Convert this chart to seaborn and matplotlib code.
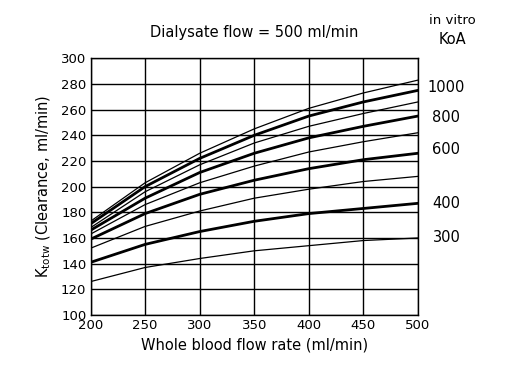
import numpy as np
import pandas as pd
import matplotlib
matplotlib.use('Agg')
import matplotlib.pyplot as plt
import seaborn as sns

# blood flow (ml/min)
blood_flow = [200, 250, 300, 350, 400, 450, 500]

# thick curves (labelled KoA)
koa_1000 = [171, 200, 222, 240, 255, 266, 275]
koa_800 = [166, 191, 211, 226, 238, 247, 255]
koa_600 = [159, 179, 194, 205, 214, 221, 226]
koa_400 = [141, 155, 165, 173, 179, 183, 187]

# thin curves
thin_1 = [173, 203, 226, 245, 261, 273, 283]
thin_2 = [168, 196, 217, 234, 247, 257, 266]
thin_3 = [163, 186, 203, 216, 227, 235, 242]
thin_4 = [152, 169, 181, 191, 198, 204, 208]
thin_300 = [126, 137, 144, 150, 154, 158, 160]

right_labels = ['1000', '800', '600', '400', '300']
right_label_y = [277, 254, 229, 187, 160]

sns.set_style('white')
plt.rcParams['font.family'] = ['DejaVu Sans']
plt.rcParams['text.color'] = 'black'
plt.rcParams['axes.labelcolor'] = 'black'

rows = []
for name, vals, w in [('koa_1000', koa_1000, 'thick'), ('koa_800', koa_800, 'thick'),
                      ('koa_600', koa_600, 'thick'), ('koa_400', koa_400, 'thick'),
                      ('thin_1', thin_1, 'thin'), ('thin_2', thin_2, 'thin'),
                      ('thin_3', thin_3, 'thin'), ('thin_4', thin_4, 'thin'),
                      ('thin_300', thin_300, 'thin')]:
    for x, y in zip(blood_flow, vals):
        rows.append({'curve': name, 'flow': x, 'K': y, 'w': w})
df = pd.DataFrame(rows)

fig = plt.figure(figsize=(5.12, 3.77), dpi=100)
ax = fig.add_axes([0.1768, 0.1645, 0.6396, 0.6809])

for name, g in df.groupby('curve', sort=False):
    lw = 2.0 if g['w'].iloc[0] == 'thick' else 0.9
    sns.lineplot(data=g, x='flow', y='K', color='black', linewidth=lw, ax=ax,
                 legend=False, zorder=3)

ax.set_xlim(200, 500)
ax.set_ylim(100, 300)
ax.set_xticks(np.arange(200, 501, 50))
ax.set_yticks(np.arange(100, 301, 20))
ax.grid(True, color='black', linewidth=1.0)
ax.tick_params(length=0, labelsize=9.5, pad=3, colors='black')
for s in ax.spines.values():
    s.set_color('black')
    s.set_linewidth(1.0)

ax.set_xlabel('Whole blood flow rate (ml/min)', fontsize=10.5, labelpad=4)
ax.set_ylabel(r'K$_{\mathrm{totw}}$ (Clearance, ml/min)', fontsize=10.5, labelpad=6)
ax.set_title('Dialysate flow = 500 ml/min', fontsize=10.5, pad=15)

for lab, yv in zip(right_labels, right_label_y):
    ax.text(526, yv, lab, ha='center', va='center', fontsize=10.5, clip_on=False)

fig.text(452 / 512, 1 - 21 / 377, 'in vitro', ha='center', va='center', fontsize=9.5)
fig.text(452 / 512, 1 - 40 / 377, 'KoA', ha='center', va='center', fontsize=10.5)

fig.savefig('out.png', dpi=100)
